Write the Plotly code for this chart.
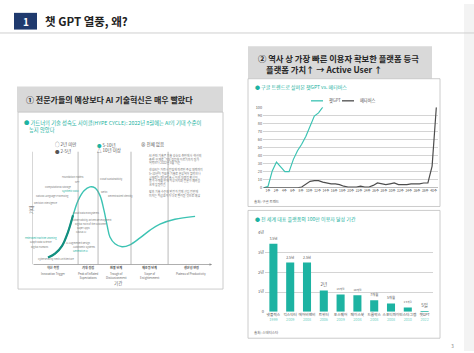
import plotly.graph_objects as go

W, H = 474, 353
FONT = "Noto Sans CJK KR"
TEAL = "#1db3a2"
TEAL_L = "#3cc3b3"
GRAY = "#555555"

# ---------------- data ----------------
# Google trends (weekly index)
week_labels = ["1주", "2주", "4주", "6주", "8주", "10주", "12주", "14주", "16주", "18주", "20주",
               "22주", "24주", "26주", "28주", "30주", "32주", "34주", "36주", "38주", "40주"]
chatgpt = [0, 2, 21, 32, 26, 20, 20, 35, 46, 54, 64, 76, 89, 93, 100]
metaverse = [0, 0, 0, 0, 0, 0, 0, 0, 0, 1, 4, 8, 9, 9, 7, 6, 5, 5, 4, 2, 1,
             1, 1, 2, 1, 1, 3, 6, 5, 4, 5, 6, 4, 4, 4, 5, 5, 5, 6, 6, 27, 100]

# time to reach 1M users
platforms = ["넷플릭스", "킥스타터", "에어비앤비", "트위터", "포스퀘어", "페이스북",
             "드롭박스", "스포티파이", "인스타그램", "챗GPT"]
years = ["1999", "2009", "2008", "2006", "2009", "2004", "2008", "2008", "2010", "2022"]
bar_values = [3.45, 2.5, 2.5, 1.08, 0.88, 0.83, 0.58, 0.42, 0.21, 0.03]
bar_labels = ["3.5년", "2.5년", "2.5년", "2년", "13개월", "10개월", "7개월", "5개월", "2.5개월", "5일"]
bar_ticks = ["0", "1년", "2년", "3년", "4년"]

# hype cycle curve (time, expectation)
hype_t = [8.9, 12.8, 16.7, 20, 22.8, 25.6, 28.9, 32.2, 35, 37.8, 40, 41.7, 43.3, 46.1,
          50, 54.4, 60, 65.6, 71.1, 79.4, 90.6]
hype_e = [6.1, 9.6, 16.5, 28.7, 43.5, 56.5, 65.2, 68.7, 67.8, 60.9, 47.8, 34.8, 24.3, 18.3,
          15.7, 17.4, 23.5, 30.4, 35.7, 40, 42.6]
phase_div = [25.6, 36.7, 55, 75.6]
phases = [("혁신 촉발", "Innovation Trigger"),
          ("기대 정점", "Peak of Inflated<br>Expectations"),
          ("환멸 단계", "Trough of<br>Disillusionment"),
          ("재조명 단계", "Slope of<br>Enlightenment"),
          ("생산성 안정", "Plateau of Productivity")]


def X(px):
    return px / W


def Y(py):
    return 1 - py / H


fig = go.Figure()

# ---------------- line chart ----------------
fig.add_trace(go.Scatter(x=list(range(len(chatgpt))), y=chatgpt, mode="lines",
                         line=dict(color=TEAL_L, width=1.2), showlegend=False,
                         xaxis="x", yaxis="y"))
fig.add_trace(go.Scatter(x=list(range(len(metaverse))), y=metaverse, mode="lines",
                         line=dict(color="#4d4d4d", width=1.2), showlegend=False,
                         xaxis="x", yaxis="y"))

# ---------------- bar chart ----------------
ticktext = [f"{p}<br><span style='color:#6fcfc4'>{y}</span>" for p, y in zip(platforms, years)]
fig.add_trace(go.Bar(x=platforms, y=bar_values, text=bar_labels, textposition="outside",
                     textfont=dict(size=4.5, color=GRAY, family=FONT), cliponaxis=False,
                     marker=dict(color=TEAL, line=dict(width=0)), width=0.48,
                     showlegend=False, xaxis="x2", yaxis="y2"))

# ---------------- hype cycle ----------------
fig.add_trace(go.Scatter(x=hype_t, y=hype_e, mode="lines", line=dict(color=TEAL_L, width=1.4, shape="spline"),
                         showlegend=False, xaxis="x3", yaxis="y3"))
fig.add_trace(go.Scatter(x=hype_t[:5], y=hype_e[:5], mode="lines",
                         line=dict(color="#138f80", width=2.2, shape="spline"),
                         showlegend=False, xaxis="x3", yaxis="y3"))

fig.update_layout(
    width=W, height=H, margin=dict(l=0, r=0, t=0, b=0),
    paper_bgcolor="white", plot_bgcolor="rgba(0,0,0,0)",
    font=dict(family=FONT, color=GRAY),
    xaxis=dict(domain=[X(263), X(438)], range=[-0.2, 41.4], anchor="y",
               tickvals=[0.95 + 1.97 * i for i in range(len(week_labels))], ticktext=week_labels,
               tickfont=dict(size=3.3, color=GRAY), showgrid=False, zeroline=False,
               showline=False, ticks="", tickangle=0),
    yaxis=dict(domain=[Y(187), Y(105)], range=[0, 100], dtick=10, anchor="x",
               tickfont=dict(size=3.8, color=GRAY), gridcolor="#d4d4d4", gridwidth=0.6,
               zeroline=True, zerolinecolor="#bfbfbf", zerolinewidth=0.6, ticks=""),
    xaxis2=dict(domain=[X(265), X(433)], tickvals=platforms, ticktext=ticktext, anchor="y2",
                tickfont=dict(size=3.7, color=GRAY), showgrid=False, ticks="", tickangle=0,
                showline=False),
    yaxis2=dict(domain=[Y(313), Y(233)], range=[0, 4], tickvals=[0, 1, 2, 3, 4], ticktext=bar_ticks,
                anchor="x2",
                tickfont=dict(size=4, color=GRAY), gridcolor="#d4d4d4", gridwidth=0.6,
                zeroline=False, ticks=""),
    xaxis3=dict(domain=[X(32), X(212)], range=[0, 100], visible=False, anchor="y3"),
    yaxis3=dict(domain=[Y(265), Y(150)], range=[0, 100], visible=False, anchor="x3"),
)

shapes = []
ann = []


def rect(x0, y0, x1, y1, fill="rgba(0,0,0,0)", line="#bfbfbf", lw=0.8):
    shapes.append(dict(type="rect", xref="paper", yref="paper", x0=X(x0), x1=X(x1), y0=Y(y1), y1=Y(y0),
                       fillcolor=fill, line=dict(color=line, width=lw), layer="below"))


def text(px, py, s, size=5, color=GRAY, xanchor="left", bold=False, **kw):
    if bold:
        s = f"<b>{s}</b>"
    ann.append(dict(xref="paper", yref="paper", x=X(px), y=Y(py), text=s, showarrow=False,
                    xanchor=xanchor, yanchor="middle", font=dict(size=size, color=color, family=FONT), **kw))


# header
rect(14, 9, 37, 26, fill="#1f3a6e", line="#1f3a6e", lw=0)
text(25.5, 17.5, "1", size=10, color="white", xanchor="center", bold=True)
text(43, 17.5, "챗 GPT 열풍, 왜?", size=11.5, color="#222222", bold=True)
shapes.append(dict(type="line", xref="paper", yref="paper", x0=0, x1=1, y0=Y(29.5), y1=Y(29.5),
                   line=dict(color="#cfcfcf", width=1)))
rect(464, 0, 474, 353, fill="#f3f3f3", line="#f3f3f3", lw=0)

# left panel
rect(17, 84, 223, 110, fill="#d9d9d9", line="#d9d9d9", lw=0)
text(24, 97, "① 전문가들의 예상보다 AI 기술혁신은 매우 빨랐다", size=8, color="#262626", bold=True)
rect(18, 110, 223, 290, fill="white")
text(22, 121.5, "● 가트너의 기술 성숙도 사이클(HYPE CYCLE): 2022년 8월에는 AI의 기대 수준이",
     size=5.3, color=TEAL)
text(27, 128.5, "높지 않았다", size=5.3, color=TEAL)
text(53, 143, "○ 2년 미만", size=4.5)
text(53, 149.5, "● 2-5년", size=4.5)
text(95, 143, "<span style='color:%s'>●</span> 5-10년" % TEAL, size=4.5)
text(95, 149.5, "△ 10년 이상", size=4.5)
text(139, 143, "⊗ 전체 없음", size=4.5)

para = ["AI 관련 기술은 기술 성숙도 측면에서 '혁신의",
        "촉발' 단계로, 기대 정점에 이르기까지 평가",
        "되었으나 2022년 8월 기준",
        "",
        "생성AI는 가트너 전망에 따르면 주류 채택까지",
        "5~10년이 필요한 기술로 분류되어 있었으나",
        "실제로는 챗GPT 출시 이후 대중적 확산이",
        "불과 수개월 만에 이루어지며 전문가 예측을",
        "크게 앞질렀음",
        "",
        "향후 기술 수준의 발전과 함께 산업 전반에",
        "미치는 파급효과가 더욱 빨라질 것으로 예상"]
for i, line in enumerate(para):
    if line:
        text(147, 154 + i * 3.7, line, size=2.9, color="#777777")

# hype axes
shapes.append(dict(type="line", xref="x3", yref="y3", x0=0, x1=0, y0=0, y1=100,
                   line=dict(color="#8c8c8c", width=0.7)))
for d in phase_div:
    shapes.append(dict(type="line", xref="x3", yref="y3", x0=d, x1=d, y0=0, y1=100,
                       line=dict(color="#8c8c8c", width=0.6)))
ann.append(dict(xref="x3", yref="y3", axref="x3", ayref="y3", x=100, y=0, ax=0, ay=0, text="",
                showarrow=True, arrowhead=2, arrowsize=0.7, arrowwidth=0.7, arrowcolor="#8c8c8c"))
for cx, (ko, en) in zip([53, 88, 116, 149, 191], phases):
    text(cx, 268.5, ko, size=3.1, color="#444444", xanchor="center", bold=True)
    ann.append(dict(xref="paper", yref="paper", x=X(cx), y=Y(270.5), text=en, showarrow=False,
                    xanchor="center", yanchor="top", font=dict(size=2.8, color="#666666", family=FONT)))
text(118, 284, "기간", size=4.5, color="#666666", xanchor="center")
ann.append(dict(xref="paper", yref="paper", x=X(26), y=Y(210), text="기대", showarrow=False,
                textangle=-90, font=dict(size=4.5, color="#666666", family=FONT)))

techs = [("Foundation Models", 73, 176), ("NFT", 77, 181), ("Computational Storage", 58, 186),
         ("Synthetic Data", 70, 190.5), ("Natural Language Processing", 52, 195),
         ("Decision Intelligence", 46, 202), ("Cloud Data Ecosystems", 86, 213),
         ("Observability-Driven Development", 92, 220), ("Digital Twin of the Customer", 90, 224),
         ("Super Apps", 84, 228), ("Causal AI", 81, 232),
         ("Federated Machine Learning", 41, 238), ("Graph Data Science", 41, 242.5),
         ("Digital Humans", 40, 247), ("AI-Augmented Design", 78, 243),
         ("Autonomic Systems", 84, 247), ("Generative AI", 80, 251),
         ("Cybersecurity Mesh Architecture", 56, 259), ("Cloud Sustainability", 111, 178),
         ("Web3", 104, 191), ("Decentralized Identity", 120, 195)]
for name, px, py in techs:
    col = TEAL if name in ("Generative AI", "Federated Machine Learning", "Synthetic Data") else "#7a7a7a"
    text(px, py, name, size=2.4, color=col, xanchor="center")

# right panel: line chart
rect(248, 43, 432, 76, fill="#d9d9d9", line="#d9d9d9", lw=0)
text(256, 55, "② 역사 상 가장 빠른 이용자 확보한 플랫폼 등극", size=8.3, color="#262626", bold=True)
text(264, 66, "플랫폼 가치↑ → Active User ↑", size=8.3, color="#262626", bold=True)
rect(248, 76, 440, 206, fill="white")
text(253, 84, "● 구글 트렌드로 살펴본 챗GPT vs. 메타버스", size=5, color=TEAL)
shapes.append(dict(type="line", xref="paper", yref="paper", x0=X(311), x1=X(323), y0=Y(98.5), y1=Y(98.5),
                   line=dict(color=TEAL_L, width=1.3)))
text(327, 98.5, "챗GPT", size=4.2)
shapes.append(dict(type="line", xref="paper", yref="paper", x0=X(342), x1=X(354), y0=Y(98.5), y1=Y(98.5),
                   line=dict(color="#4d4d4d", width=1.3)))
text(358, 98.5, "메타버스", size=4.2)
text(252, 201, "출처: 구글 트렌드", size=3.5, color="#666666")

# right panel: bar chart
rect(248, 210, 440, 340, fill="white")
text(253, 219, "● 전 세계 대표 플랫폼의 100만 이용자 달성 기간", size=5, color=TEAL)
text(252, 334, "출처: 스태티스타", size=3.5, color="#666666")
text(452, 347, "3", size=5, color="#888888", xanchor="center")

fig.update_layout(shapes=shapes, annotations=ann)
fig.write_html("out.html")
